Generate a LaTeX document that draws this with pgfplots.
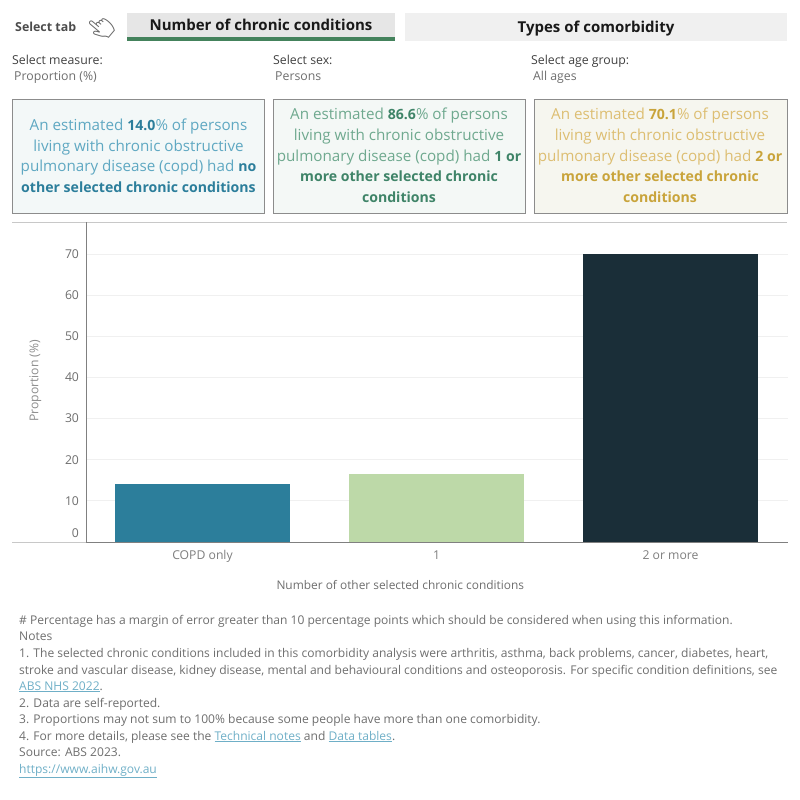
\documentclass[border=0pt]{standalone}
\usepackage{pgfplots}
\pgfplotsset{compat=1.18}
\usepackage{fontspec}
\setmainfont{Open Sans}
\newfontfamily\emojifont{Noto Emoji}
\definecolor{barA}{HTML}{2C7E9B}
\definecolor{barB}{HTML}{BDD9A8}
\definecolor{barC}{HTML}{1A2E38}
\definecolor{txt}{HTML}{6E6E6E}
\definecolor{lab}{HTML}{8C8C8C}
\definecolor{bl}{HTML}{5FA8C2}
\definecolor{blb}{HTML}{2C7E9B}
\definecolor{gl}{HTML}{6FA98F}
\definecolor{glb}{HTML}{3F8468}
\definecolor{yl}{HTML}{DDBE72}
\definecolor{ylb}{HTML}{C9A43B}
\definecolor{link}{HTML}{6FAFC7}
\definecolor{taba}{HTML}{E6E6E6}
\definecolor{tabb}{HTML}{F0F0F0}
\definecolor{tabg}{HTML}{44825C}
\definecolor{boxa}{HTML}{F3F8F8}
\definecolor{boxb}{HTML}{F4F8F6}
\definecolor{boxc}{HTML}{F6F6EF}
\definecolor{boxl}{HTML}{8C8C8C}
\definecolor{grd}{HTML}{F0F0F0}
\definecolor{axl}{HTML}{808080}
\definecolor{frm}{HTML}{C8C8C8}
\newcommand{\sz}[1]{\fontsize{#1}{#1}\selectfont}
\newcommand{\lk}[1]{\textcolor{link}{\underline{#1}}}
\newcommand{\bb}[2]{\textcolor{#1}{\sz{14.1}\textbf{#2}}}
\begin{document}
\begin{tikzpicture}
\begin{scope}[x=1pt,y=-1pt]
\path (0,0) rectangle (800,800);
% tabs
\fill[taba] (127,13) rectangle (395,37);
\fill[tabg] (127,37) rectangle (395,41);
\fill[tabb] (405,13) rectangle (787,41);
\node[font=\sz{15}\bfseries,text=black!90,anchor=base] at (261,31) {Number of chronic conditions};
\node[font=\sz{15}\bfseries,text=black!90,anchor=base] at (596,33) {Types of comorbidity};
\node[font=\sz{12.4}\bfseries,text=black!70,anchor=base west,inner sep=0pt] at (15,32) {Select tab};
\node[font=\sz{25}\emojifont,text=black!60,rotate=50] at (101,28) {\symbol{"1F446}};
% selectors
\begin{scope}[every node/.style={font=\sz{12.3},anchor=base west,inner sep=0pt}]
\node[text=black!75] at (12,64) {Select measure:};
\node[text=txt] at (14,81) {Proportion (\%)};
\node[text=black!75] at (273,64) {Select sex:};
\node[text=txt] at (275,81) {Persons};
\node[text=black!75] at (531,64) {Select age group:};
\node[text=txt] at (533,81) {All ages};
\end{scope}
% boxes
\filldraw[fill=boxa,draw=boxl,line width=1pt] (12.5,99.5) rectangle (264.5,213.5);
\filldraw[fill=boxb,draw=boxl,line width=1pt] (273.5,99.5) rectangle (525.5,213.5);
\filldraw[fill=boxc,draw=boxl,line width=1pt] (534.5,99.5) rectangle (787.5,213.5);
\begin{scope}[every node/.style={font=\sz{15.2},inner sep=0pt,anchor=base}]
\node[text=bl] at (138.5,130) {An estimated \bb{blb}{14.0}\% of persons};
\node[text=bl] at (138.5,151) {living with chronic obstructive};
\node[text=bl] at (138.5,171) {pulmonary disease (copd) had \bb{blb}{no}};
\node[text=blb] at (138.5,192) {\bb{blb}{other selected chronic conditions}};
\node[text=gl] at (399,119) {An estimated \bb{glb}{86.6}\% of persons};
\node[text=gl] at (399,140) {living with chronic obstructive};
\node[text=gl] at (399,161) {pulmonary disease (copd) had \bb{glb}{1 or}};
\node[text=glb] at (399,181) {\bb{glb}{more other selected chronic}};
\node[text=glb] at (399,202) {\bb{glb}{conditions}};
\node[text=yl] at (660,119) {An estimated \bb{ylb}{70.1}\% of persons};
\node[text=yl] at (660,140) {living with chronic obstructive};
\node[text=yl] at (660,161) {pulmonary disease (copd) had \bb{ylb}{2 or}};
\node[text=ylb] at (660,181) {\bb{ylb}{more other selected chronic}};
\node[text=ylb] at (660,202) {\bb{ylb}{conditions}};
\end{scope}
% frame lines
\draw[frm,line width=1pt] (12,222.5) -- (787,222.5);
\draw[frm,line width=1pt] (12,542.5) -- (86,542.5);
% notes
\begin{scope}[every node/.style={font=\sz{12.05},text=txt,anchor=base west,inner sep=0pt}]
\node at (19,624) {\# Percentage has a margin of error greater than 10 percentage points which should be considered when using this information.};
\node at (19,640.5) {Notes};
\node at (19,657) {1. The selected chronic conditions included in this comorbidity analysis were arthritis, asthma, back problems, cancer, diabetes, heart,};
\node at (19,674) {stroke and vascular disease, kidney disease, mental and behavioural conditions and osteoporosis. For specific condition definitions, see};
\node at (19,690) {\lk{ABS NHS 2022}.};
\node at (19,707) {2. Data are self-reported.};
\node at (19,723) {3. Proportions may not sum to 100\% because some people have more than one comorbidity.};
\node at (19,740) {4. For more details, please see the \lk{Technical notes} and \lk{Data tables}.};
\node at (19,756) {Source: ABS 2023.};
\node at (19,773) {\lk{https://www.aihw.gov.au}};
\end{scope}
\end{scope}
\begin{axis}[
  at={(86pt,-542pt)}, anchor=south west,
  scale only axis, width=701.5pt, height=320pt,
  xmin=-0.4979, xmax=2.5, ymin=0, ymax=77.8,
  axis x line*=bottom, axis y line*=left,
  axis line style={axl,line width=1pt,-},
  xtick={0,1,2}, xticklabels={COPD only,1,2 or more},
  ytick={10,20,30,40,50,60,70},
  extra y ticks={0},
  extra y tick style={grid=none,yticklabel style={yshift=9pt}},
  major tick length=0pt,
  ymajorgrids, grid style={grd,line width=0.8pt},
  /pgf/number format/assume math mode=true,
  ticklabel style={font=\sz{12.2},text=txt},
  xticklabel style={text=lab!90!black,text height=9pt,text depth=3pt,yshift=-5pt},
  yticklabel style={xshift=-3.5pt},
  xlabel={Number of other selected chronic conditions},
  ylabel={Proportion (\%)},
  xlabel style={font=\sz{11.9},text=txt,at={(axis description cs:0.448,-0.133)},anchor=center},
  ylabel style={font=\sz{12.2},text=lab,at={(axis description cs:-0.072,0.504)},anchor=center},
  ybar, bar width=175pt, bar shift=0pt,
  clip=false,
]
\addplot[draw=none,fill=barA] coordinates {(0,14.0)};
\addplot[draw=none,fill=barB] coordinates {(1,16.5)};
\addplot[draw=none,fill=barC] coordinates {(2,70.1)};
\end{axis}
\end{tikzpicture}
\end{document}
